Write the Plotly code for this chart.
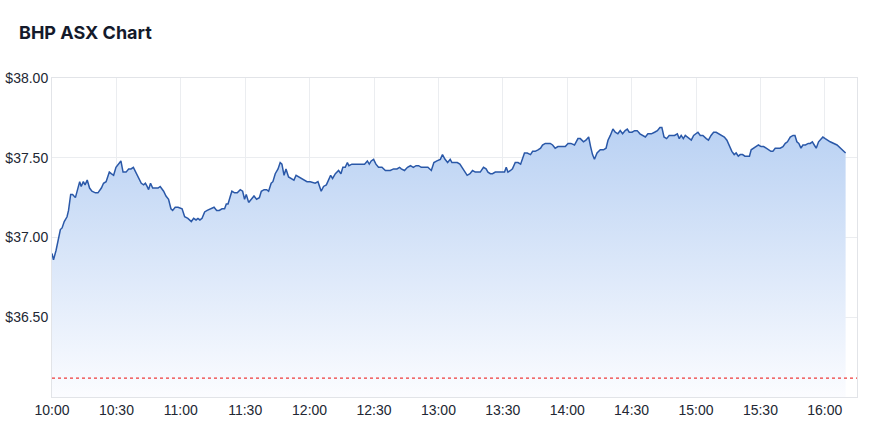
import pandas as pd
import plotly.graph_objects as go

# minutes after 10:00 market open
minutes = [
    0, 0.7, 1.9, 3.1, 3.9, 4.7, 5.7, 7.0, 7.7, 8.7, 9.6, 10.9, 11.9, 12.9, 13.6, 14.6, 15.4, 16.4, 17.5, 18.6,
    20.2, 21.4, 23.0, 24.0, 25.2, 26.7, 27.6, 28.7, 29.8, 31.0, 32.1, 33.1, 34.5, 35.7, 36.8, 37.9, 39.1, 40.3,
    41.6, 42.7, 43.5, 44.3, 45.0, 45.9, 46.9, 48.1, 49.4, 50.4, 52.0, 53.1, 54.3, 55.4, 56.2, 57.4, 58.7, 60.6,
    61.8, 63.3, 64.9, 66.0, 67.1, 68.0, 68.9, 69.9, 71.1, 72.3, 73.7, 75.5, 76.7, 77.9, 79.2, 80.4, 81.2, 82.0,
    83.1, 83.8, 85.1, 86.3, 87.7, 88.8, 89.7, 90.5, 91.6, 92.8, 94.1, 95.3, 96.6, 97.5, 98.8, 100.0, 100.9,
    102.1, 102.9, 104.0, 105.3, 106.3, 107.1, 108.1, 109.0, 110.2, 111.5, 112.7, 113.7, 114.9, 116.1, 117.7,
    118.8, 120.3, 122.6, 123.9, 124.5, 125.4, 126.5, 127.8, 128.8, 129.8, 130.7, 132.0, 133.5, 134.6, 135.5,
    136.6, 137.6, 138.3, 139.7, 141.3, 142.8, 144.1, 145.6, 146.9, 147.8, 148.7, 149.8, 150.9, 152.1, 153.7,
    155.3, 156.2, 157.6, 159.1, 160.7, 161.9, 162.7, 164.2, 165.6, 167.0, 168.3, 169.6, 170.8, 172.0, 173.6,
    175.1, 176.7, 177.9, 179.3, 180.9, 181.9, 183.1, 184.3, 185.5, 186.3, 187.5, 188.8, 190.0, 191.0, 192.2,
    193.4, 194.7, 195.9, 197.2, 198.4, 199.5, 201.0, 202.2, 203.1, 204.2, 205.2, 206.5, 208.0, 209.6, 210.8,
    211.6, 212.4, 213.6, 214.5, 215.8, 217.1, 218.3, 219.2, 220.1, 221.4, 222.9, 223.9, 225.1, 226.4, 227.6,
    228.5, 229.8, 231.0, 232.1, 233.2, 234.4, 235.7, 236.9, 237.8, 239.1, 240.4, 241.7, 243.4, 245.0, 246.1,
    247.6, 248.7, 250.0, 250.9, 251.8, 252.7, 253.9, 255.4, 256.9, 258.1, 259.0, 260.1, 261.3, 262.4, 263.6,
    264.7, 265.8, 267.0, 268.0, 268.9, 270.2, 271.4, 272.6, 273.9, 275.1, 276.4, 277.6, 279.2, 280.7, 282.0,
    283.2, 284.1, 285.1, 286.3, 287.5, 288.8, 290.0, 291.3, 292.2, 293.1, 294.1, 295.0, 295.9, 296.9, 297.8,
    298.9, 300.0, 300.9, 302.0, 303.2, 304.8, 305.8, 307.0, 308.2, 309.4, 310.7, 311.9, 313.2, 314.4, 315.6,
    316.7, 317.8, 318.7, 319.7, 320.6, 321.7, 322.8, 324.0, 324.9, 325.7, 326.8, 328.1, 329.1, 330.3, 331.5,
    332.7, 333.8, 334.9, 335.8, 336.9, 338.0, 339.2, 340.5, 341.6, 342.6, 343.9, 345.2, 346.1, 347.0, 347.9,
    348.9, 349.8, 351.0, 352.3, 353.2, 354.2, 355.1, 356.0, 357.1, 358.2, 359.1, 360.2, 362.5, 365.7, 369.7,
]

prices = [
    36.90, 36.86, 36.92, 37.00, 37.05, 37.06, 37.10, 37.13, 37.17, 37.27, 37.27, 37.25, 37.30, 37.35, 37.32, 37.35, 37.33, 37.36, 37.31, 37.29,
    37.28, 37.28, 37.31, 37.34, 37.35, 37.41, 37.40, 37.39, 37.44, 37.46, 37.48, 37.41, 37.41, 37.43, 37.43, 37.44, 37.41, 37.38,
    37.34, 37.33, 37.34, 37.32, 37.30, 37.34, 37.31, 37.31, 37.31, 37.32, 37.29, 37.26, 37.24, 37.18, 37.17, 37.19, 37.19, 37.18,
    37.13, 37.12, 37.10, 37.12, 37.11, 37.12, 37.11, 37.12, 37.16, 37.17, 37.18, 37.19, 37.17, 37.17, 37.18, 37.18, 37.21, 37.21,
    37.26, 37.29, 37.28, 37.28, 37.30, 37.29, 37.24, 37.27, 37.22, 37.24, 37.26, 37.24, 37.25, 37.29, 37.30, 37.30, 37.29,
    37.34, 37.35, 37.40, 37.43, 37.47, 37.46, 37.39, 37.43, 37.38, 37.37, 37.36, 37.39, 37.38, 37.37, 37.36,
    37.35, 37.35, 37.34, 37.35, 37.32, 37.29, 37.32, 37.33, 37.36, 37.39, 37.37, 37.40, 37.42, 37.40, 37.44,
    37.44, 37.47, 37.45, 37.46, 37.46, 37.46, 37.46, 37.46, 37.48, 37.46, 37.48, 37.49, 37.46, 37.44, 37.44,
    37.42, 37.42, 37.42, 37.43, 37.43, 37.44, 37.43, 37.42, 37.44, 37.45, 37.44, 37.45, 37.45, 37.44, 37.44,
    37.44, 37.42, 37.47, 37.48, 37.49, 37.52, 37.49, 37.47, 37.49, 37.47, 37.47, 37.47, 37.46, 37.44, 37.41,
    37.39, 37.40, 37.42, 37.41, 37.41, 37.41, 37.44, 37.43, 37.41, 37.40, 37.40, 37.41, 37.41, 37.41, 37.41,
    37.44, 37.41, 37.42, 37.43, 37.47, 37.47, 37.46, 37.49, 37.53, 37.53, 37.52, 37.54, 37.54, 37.55, 37.56,
    37.58, 37.59, 37.59, 37.59, 37.58, 37.56, 37.57, 37.57, 37.57, 37.57, 37.59, 37.59, 37.58, 37.62, 37.62,
    37.60, 37.61, 37.63, 37.57, 37.52, 37.49, 37.53, 37.55, 37.55, 37.56, 37.61, 37.64, 37.68, 37.66, 37.65,
    37.67, 37.65, 37.67, 37.68, 37.66, 37.66, 37.67, 37.67, 37.65, 37.64, 37.63, 37.65, 37.65, 37.66, 37.67,
    37.69, 37.69, 37.63, 37.62, 37.64, 37.64, 37.64, 37.65, 37.62, 37.64, 37.62, 37.64, 37.63, 37.62, 37.61,
    37.64, 37.65, 37.66, 37.64, 37.64, 37.62, 37.61, 37.64, 37.66, 37.66, 37.65, 37.64, 37.63, 37.61, 37.57,
    37.54, 37.52, 37.53, 37.51, 37.52, 37.52, 37.51, 37.51, 37.51, 37.55, 37.56, 37.57, 37.58, 37.57, 37.57,
    37.56, 37.55, 37.54, 37.54, 37.56, 37.56, 37.56, 37.57, 37.59, 37.60, 37.63, 37.64, 37.64, 37.60, 37.59,
    37.56, 37.58, 37.58, 37.59, 37.59, 37.60, 37.58, 37.56, 37.60, 37.62, 37.63, 37.62, 37.60, 37.58, 37.53,
]

previous_close = 36.118
y_ticks = [36.5, 37.0, 37.5, 38.0]
y_tick_labels = ["$36.50", "$37.00", "$37.50", "$38.00"]
x_tick_labels = ["10:00", "10:30", "11:00", "11:30", "12:00", "12:30", "13:00",
                 "13:30", "14:00", "14:30", "15:00", "15:30", "16:00"]
title_text = "BHP ASX Chart"

base = pd.Timestamp("2024-01-01 10:00:00")
times = [base + pd.Timedelta(minutes=m) for m in minutes]
tick_times = [pd.Timestamp("2024-01-01 " + t) for t in x_tick_labels]
x_start = base
x_end = base + pd.Timedelta(minutes=375)
y_min, y_max = 36.0, 38.0

W, H = 880, 425

fig = go.Figure()
fig.add_trace(go.Scatter(
    x=times, y=[y_min] * len(times), mode="lines",
    line=dict(width=0, color="rgba(0,0,0,0)"), hoverinfo="skip", showlegend=False,
))
fig.add_trace(go.Scatter(
    x=times, y=prices, mode="lines",
    line=dict(color="#2a58a8", width=1.5),
    fill="tonexty",
    fillgradient=dict(
        type="vertical",
        colorscale=[[0, "#fbfcff"], [1, "#b9d1f3"]],
        start=y_min, stop=37.7,
    ),
    showlegend=False,
))

fig.add_shape(
    type="line", xref="paper", yref="y", x0=0, x1=1,
    y0=previous_close, y1=previous_close,
    line=dict(color="#ee3b3b", width=1.2, dash="dot"),
)

axis_font = dict(family="Liberation Sans, Arial, sans-serif", size=14, color="#222733")

fig.update_layout(
    width=W, height=H,
    margin=dict(l=52, r=23, t=78, b=28),
    paper_bgcolor="white", plot_bgcolor="white",
    title=dict(
        text="<b>" + title_text + "</b>",
        x=19 / W, xanchor="left", xref="container",
        y=1 - 33 / H, yanchor="middle", yref="container",
        font=dict(family="Inter, Roboto, sans-serif", size=18, color="#141a2b"),
    ),
    xaxis=dict(
        type="date", range=[x_start, x_end], automargin=False,
        tickvals=tick_times, ticktext=x_tick_labels,
        showgrid=True, gridcolor="#ebedf0", gridwidth=1,
        showline=True, linecolor="#e2e4e8", linewidth=1, mirror=True,
        ticks="", tickfont=axis_font, zeroline=False,
    ),
    yaxis=dict(
        range=[y_min, y_max], automargin=False,
        tickvals=y_ticks, ticktext=y_tick_labels,
        showgrid=True, gridcolor="#ebedf0", gridwidth=1,
        showline=True, linecolor="#e2e4e8", linewidth=1, mirror=True,
        ticks="", tickfont=axis_font, zeroline=False,
    ),
)

fig.write_html(
    "out.html",
    config={"displayModeBar": False},
    post_script="document.body.style.margin='0px';document.body.style.overflow='hidden';",
)
